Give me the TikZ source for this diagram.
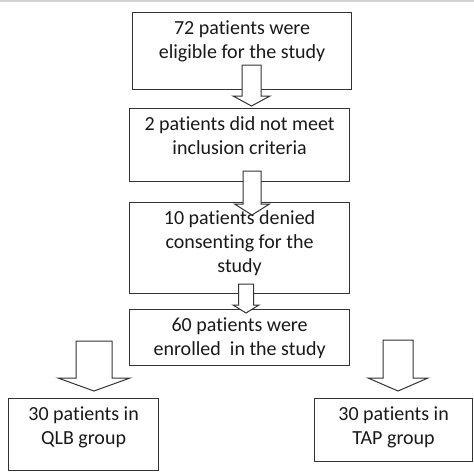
\documentclass[tikz,border=0pt]{standalone}
\usepackage{fontspec}
\setmainfont{Carlito}[Ligatures=CommonOff]
\usetikzlibrary{calc}
\tikzset{
  boxsty/.style={draw=black!80, line width=1.2pt, inner sep=0pt, anchor=north west},
  txtsty/.style={inner sep=0pt, anchor=north, align=center, text=black!90,
    font=\fontsize{20}{24}\selectfont},
  arrowsty/.style={draw=black!80, fill=white, line width=1pt, line join=miter},
}
\newcommand\blockarr[5]{% start, tip, shaft half width, head half width, head length
  \draw[arrowsty] ($(#1)+(-#3,0)$) -- ($(#2)+(-#3,-#5)$) -- ($(#2)+(-#4,-#5)$)
    -- (#2) -- ($(#2)+(#4,-#5)$) -- ($(#2)+(#3,-#5)$) -- ($(#1)+(#3,0)$) -- cycle;}
\newcommand\fl{\rule{0pt}{16pt}}
\begin{document}
\begin{tikzpicture}[x=1pt,y=-1pt]
\useasboundingbox (0,0) rectangle (474,474);
\fill[black!18] (0,0) rectangle (474,2);
% boxes
\node[boxsty, minimum width=219pt, minimum height=77pt] (b1) at (132,12) {};
\node[boxsty, minimum width=220pt, minimum height=73pt] (b2) at (129,108) {};
\node[boxsty, minimum width=220pt, minimum height=91pt] (b3) at (129,202) {};
\node[boxsty, minimum width=220pt, minimum height=56pt] (b4) at (129,309) {};
\node[boxsty, minimum width=150pt, minimum height=72pt] (b5) at (8,398) {};
\node[boxsty, minimum width=158pt, minimum height=63pt] (b6) at (314,398) {};
% arrow coordinates
\coordinate (a1s) at (251.5,65);  \coordinate (a1e) at (251.5,106);
\coordinate (a2s) at (252,171);   \coordinate (a2e) at (252,215);
\coordinate (a3s) at (246,284);   \coordinate (a3e) at (246,313);
\coordinate (a4s) at (94,341);    \coordinate (a4e) at (94,391);
\coordinate (a5s) at (398,340);   \coordinate (a5e) at (398,391);
\blockarr{a1s}{a1e}{9.5}{18.5}{10}
\blockarr{a2s}{a2e}{9}{17.5}{11}
\blockarr{a3s}{a3e}{7.5}{13}{8}
\blockarr{a4s}{a4e}{18}{36}{13}
\blockarr{a5s}{a5e}{15}{30}{13}
% texts
\node[txtsty] (t1) at ([yshift=-6.5pt]b1.north) {\fl 72 patients were\\eligible for the study};
\node[txtsty] (t2) at ([yshift=-6.5pt]b2.north) {\fl 2 patients did not meet\\inclusion criteria};
\node[txtsty] (t3) at ([yshift=-6.5pt]b3.north) {\fl 10 patients denied\\consenting for the\\study};
\node[txtsty] (t4) at ([yshift=-6.5pt]b4.north) {\fl 60 patients were\\enrolled~ in the study};
\node[txtsty] (t5) at ([yshift=-6.5pt]b5.north) {\fl 30 patients in\\QLB group};
\node[txtsty] (t6) at ([yshift=-6.5pt]b6.north) {\fl 30 patients in\\TAP group};
\end{tikzpicture}
\end{document}
